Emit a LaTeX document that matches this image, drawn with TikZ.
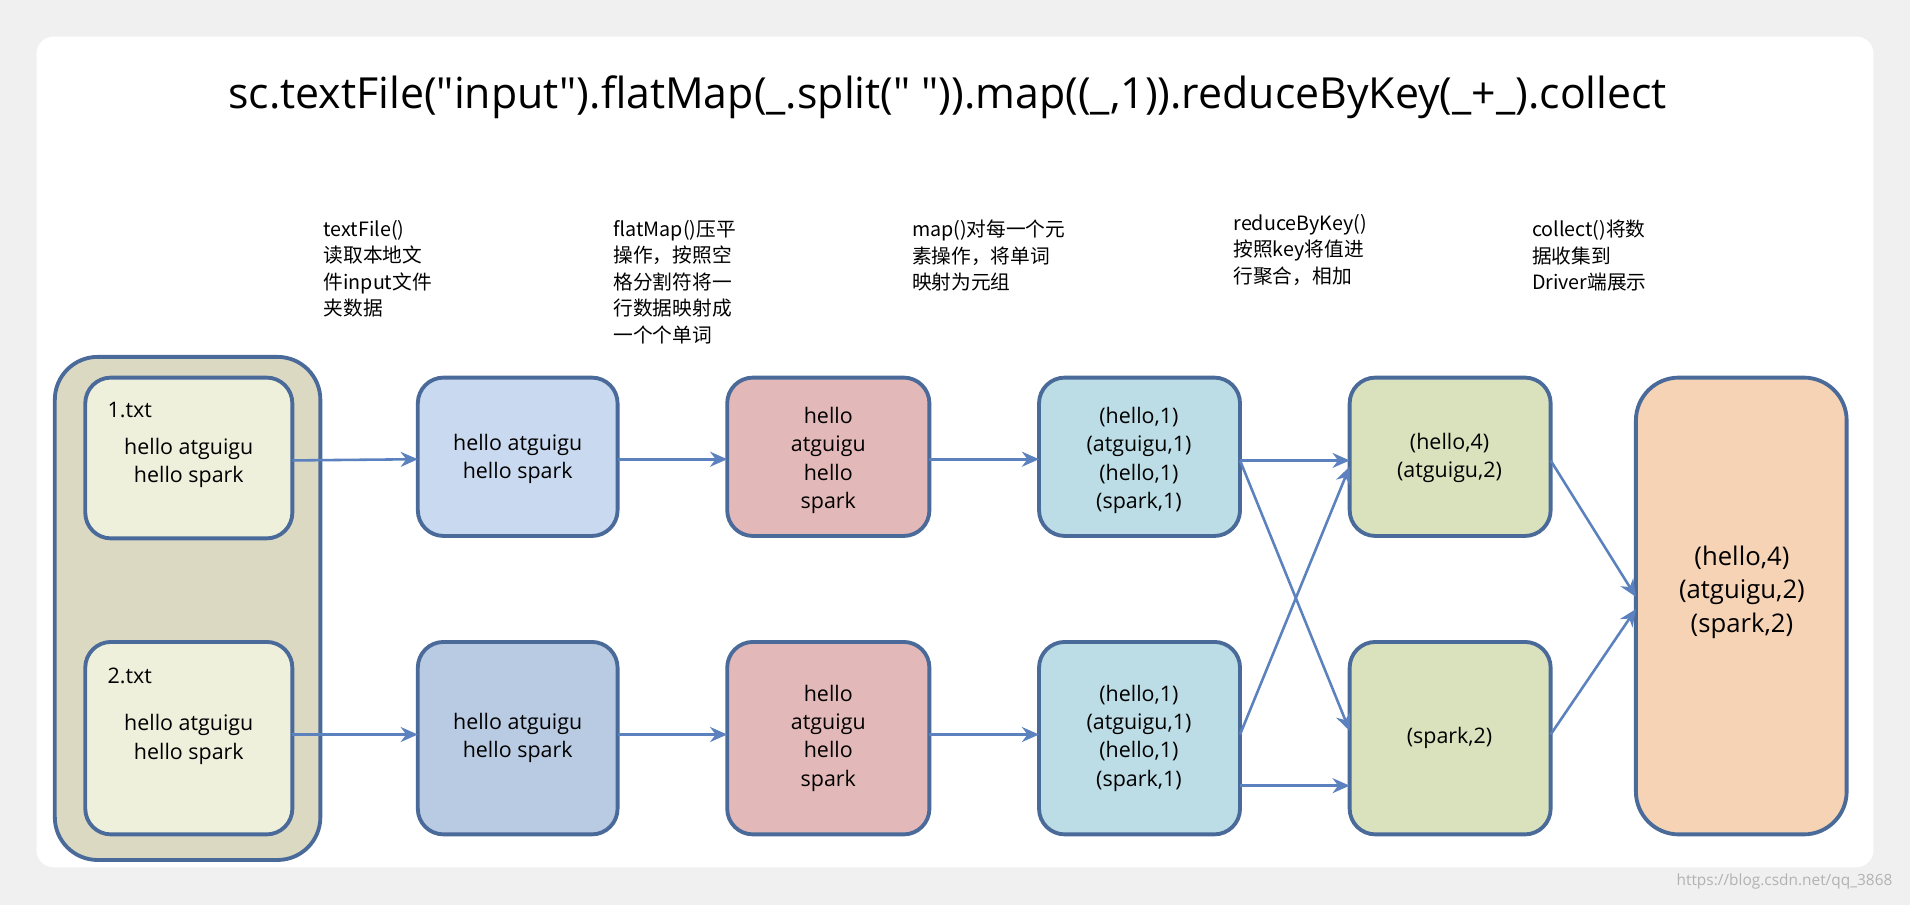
\documentclass[tikz,border=0pt]{standalone}
\usepackage{fontspec}
\setmainfont{Open Sans}[Ligatures=TeXOff]
\newfontfamily\cjk{Noto Sans CJK SC}
\usetikzlibrary{arrows.meta}
\definecolor{bordblue}{HTML}{4A6A9A}
\definecolor{contfill}{HTML}{DCD9C3}
\definecolor{txtfill}{HTML}{EEF0DC}
\definecolor{blueA}{HTML}{C9D9EF}
\definecolor{blueB}{HTML}{B9CBE3}
\definecolor{redf}{HTML}{E3B8B8}
\definecolor{cyanf}{HTML}{BCDDE6}
\definecolor{greenf}{HTML}{D9E2BD}
\definecolor{orangef}{HTML}{F5D3B4}
\definecolor{arrowc}{HTML}{5B82BE}
\tikzset{
  box/.style={draw=bordblue, line width=0.9pt, rounded corners=6pt},
  body/.style={font=\fontsize{5}{6.6}\selectfont, align=center, text=black},
  lab/.style={font=\cjk\fontsize{4.6}{6.2}\selectfont, align=left, anchor=north west, inner sep=0pt},
  arr/.style={draw=arrowc, line width=0.6pt, -{Stealth[length=4pt,width=3.5pt]}}
}
\begin{document}
\begin{tikzpicture}[x=0.01cm,y=-0.01cm]
\fill[gray!12] (0,0) rectangle (1568,743);
\useasboundingbox (0,0) rectangle (1568,743);
\fill[white, rounded corners=4pt] (30,30) rectangle (1538,712);

\node[font=\fontsize{10}{12}\selectfont] (title) at (778,80) {sc.textFile("input").flatMap(\_.split(" ")).map((\_,1)).reduceByKey(\_+\_).collect};

% labels
\node[lab] (l1) at (265,180) {textFile()\\读取本地文\\件input文件\\夹数据};
\node[lab] (l2) at (503,180) {flatMap()压平\\操作，按照空\\格分割符将一\\行数据映射成\\一个个单词};
\node[lab] (l3) at (748,180) {map()对每一个元\\素操作，将单词\\映射为元组};
\node[lab] (l4) at (1012,175) {reduceByKey()\\按照key将值进\\行聚合，相加};
\node[lab] (l5) at (1257,180) {collect()将数\\据收集到\\Driver端展示};

% container
\draw[box, fill=contfill, rounded corners=10pt] (45,293) rectangle (263,706);
\draw[box, fill=txtfill] (70,310) rectangle (240,442);
\node[body, anchor=north west] (n1) at (76,318) {1.txt};
\node[body] (t1) at (155,380) {hello atguigu\\hello spark};
\draw[box, fill=txtfill] (70,527) rectangle (240,685);
\node[body, anchor=north west] (n2) at (76,536) {2.txt};
\node[body] (t2) at (155,607) {hello atguigu\\hello spark};

% stage boxes
\draw[box, fill=blueA] (343,310) rectangle (507,440);
\node[body] (b1) at (425,377) {hello atguigu\\hello spark};
\draw[box, fill=blueB] (343,527) rectangle (507,685);
\node[body] (b2) at (425,606) {hello atguigu\\hello spark};

\draw[box, fill=redf] (597,310) rectangle (763,440);
\node[body] (r1) at (680,378) {hello\\atguigu\\hello\\spark};
\draw[box, fill=redf] (597,527) rectangle (763,685);
\node[body] (r2) at (680,606) {hello\\atguigu\\hello\\spark};

\draw[box, fill=cyanf] (853,310) rectangle (1018,440);
\node[body] (c1) at (935,378) {(hello,1)\\(atguigu,1)\\(hello,1)\\(spark,1)};
\draw[box, fill=cyanf] (853,527) rectangle (1018,685);
\node[body] (c2) at (935,606) {(hello,1)\\(atguigu,1)\\(hello,1)\\(spark,1)};

\draw[box, fill=greenf] (1108,310) rectangle (1273,440);
\node[body] (g1) at (1190,376) {(hello,4)\\(atguigu,2)};
\draw[box, fill=greenf] (1108,527) rectangle (1273,685);
\node[body] (g2) at (1190,606) {(spark,2)};

\draw[box, fill=orangef, rounded corners=10pt] (1343,310) rectangle (1516,685);
\node[body, font=\fontsize{6}{7.8}\selectfont] (o) at (1430,486) {(hello,4)\\(atguigu,2)\\(spark,2)};

% connector ends
\coordinate (t1e) at (240,378); \coordinate (b1w) at (343,377);
\coordinate (t2e) at (240,603); \coordinate (b2w) at (343,603);
\coordinate (b1e) at (507,377); \coordinate (r1w) at (597,377);
\coordinate (b2e) at (507,603); \coordinate (r2w) at (597,603);
\coordinate (r1e) at (763,377); \coordinate (c1w) at (853,377);
\coordinate (r2e) at (763,603); \coordinate (c2w) at (853,603);
\coordinate (c1e) at (1018,378); \coordinate (g1w) at (1108,378);
\coordinate (c2e) at (1018,603); \coordinate (g1s) at (1108,383);
\coordinate (g2w) at (1108,600); \coordinate (c2f) at (1018,645);
\coordinate (g2f) at (1108,645);
\coordinate (g1e) at (1273,378); \coordinate (g2e) at (1273,603);
\coordinate (o1) at (1343,490); \coordinate (o2) at (1343,500);

\draw[arr] (t1e) -- (b1w);
\draw[arr] (t2e) -- (b2w);
\draw[arr] (b1e) -- (r1w);
\draw[arr] (b2e) -- (r2w);
\draw[arr] (r1e) -- (c1w);
\draw[arr] (r2e) -- (c2w);
\draw[arr] (c1e) -- (g1w);
\draw[arr] (c1e) -- (g2w);
\draw[arr] (c2e) -- (g1s);
\draw[arr] (c2f) -- (g2f);
\draw[arr] (g1e) -- (o1);
\draw[arr] (g2e) -- (o2);

\node[font=\fontsize{3.6}{4}\selectfont, text=gray!60, anchor=east] (wm) at (1566,724) {https://blog.csdn.net/qq\_3868};
\end{tikzpicture}
\end{document}
